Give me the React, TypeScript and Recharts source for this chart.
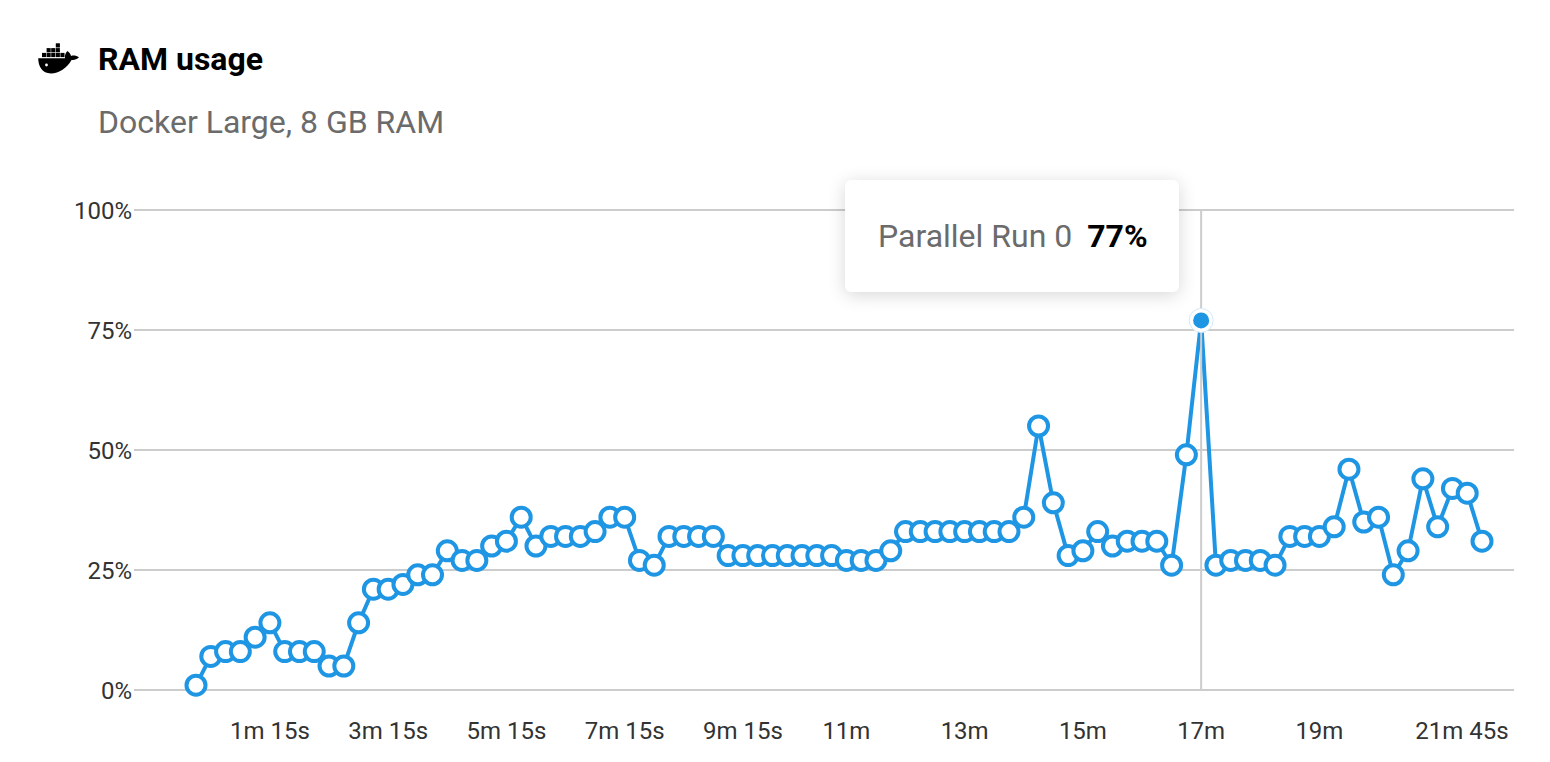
import React from 'react';
import { LineChart, Line, XAxis, YAxis, CartesianGrid, Tooltip } from 'recharts';

const SERIES_NAME = 'Parallel Run 0';
const ACTIVE_INDEX = 68;

// one sample every 15 seconds
const ramValues = [
  1, 7, 8, 8, 11, 14, 8, 8, 8, 5, 5, 14, 21, 21, 22, 24, 24, 29, 27, 27, 30, 31,
  36, 30, 32, 32, 32, 33, 36, 36, 27, 26, 32, 32, 32, 32, 28, 28, 28, 28, 28, 28,
  28, 28, 27, 27, 27, 29, 33, 33, 33, 33, 33, 33, 33, 33, 36, 55, 39, 28, 29, 33,
  30, 31, 31, 31, 26, 49, 77, 26, 27, 27, 27, 26, 32, 32, 32, 34, 46, 35, 36, 24,
  29, 44, 34, 42, 41, 31,
];
const timeTicks = ['1m 15s', '3m 15s', '5m 15s', '7m 15s', '9m 15s', '11m', '13m', '15m', '17m', '19m', '21m 45s'];
const percentTicks = [0, 25, 50, 75, 100];

const formatTime = (i: number) => {
  const total = i * 15;
  const m = Math.floor(total / 60);
  const s = total % 60;
  return s ? `${m}m ${s}s` : `${m}m`;
};

const chartData = ramValues.map((value, i) => ({ time: formatTime(i), value }));

const BLUE = '#1f96e3';

const TimeTick = (props: any) => {
  const { x, y, payload } = props;
  const isLast = payload.value === timeTicks[timeTicks.length - 1];
  return (
    <text x={x} y={y} dx={isLast ? -20 : 0} dy={41} textAnchor="middle" fontSize={24} fill="#333">
      {payload.value}
    </text>
  );
};

const RamTooltip = ({ payload }: any) => {
  const value = payload && payload.length ? payload[0].value : null;
  return (
    <div
      style={{
        width: 334,
        height: 112,
        boxSizing: 'border-box',
        display: 'flex',
        alignItems: 'center',
        paddingLeft: 33,
        background: '#fff',
        borderRadius: 6,
        boxShadow: '0 3px 18px rgba(0,0,0,0.16)',
        fontSize: 32,
      }}
    >
      <span style={{ color: '#6b6b6b' }}>{SERIES_NAME}</span>
      <span style={{ color: '#000', fontWeight: 700, marginLeft: 15 }}>{value}%</span>
    </div>
  );
};

const ActiveDot = (props: any) => {
  const { cx, cy } = props;
  return (
    <g>
      <circle cx={cx} cy={cy} r={12} fill="#fff" stroke="#d4ebfa" strokeWidth={1} />
      <circle cx={cx} cy={cy} r={8} fill={BLUE} />
    </g>
  );
};

const DockerIcon = () => {
  const boxes = [
    [17.8, 0.3],
    [8.6, 5.1], [13.2, 5.1], [17.8, 5.1],
    [4, 9.9], [8.6, 9.9], [13.2, 9.9], [17.8, 9.9], [22.4, 9.9],
  ];
  return (
    <svg width={41} height={31} viewBox="0 0 41 31" style={{ position: 'absolute', left: 38, top: 43 }}>
      {boxes.map(([x, y], i) => (
        <rect key={i} x={x} y={y} width={4.1} height={4.2} fill="#000" />
      ))}
      <path
        d="M0.2 15.3 H27 C26.5 12.5 27.5 10 29.5 8 C31.5 9.5 32.5 11 33 13 C35.5 12 38.5 12.5 41 14.5 C38.5 16.5 36 17 33.5 17 C29 25 21 30.5 13 30.5 C4 30.5 0.3 23 0.2 15.3 Z"
        fill="#000"
      />
      <circle cx={8.5} cy={22} r={1.4} fill="#fff" />
    </svg>
  );
};

export default function App() {
  return (
    <div style={{ position: 'absolute', left: 0, top: 0, width: 1550, height: 762, background: '#fff', fontFamily: 'Roboto, sans-serif' }}>
      <DockerIcon />
      <div style={{ position: 'absolute', left: 98, top: 40, fontSize: 32, lineHeight: '38px', fontWeight: 700, color: '#000' }}>RAM usage</div>
      <div style={{ position: 'absolute', left: 98, top: 103, fontSize: 32, lineHeight: '38px', color: '#6b6b6b' }}>Docker Large, 8 GB RAM</div>
      <div style={{ position: 'absolute', left: 0, top: 0 }}>
        <LineChart width={1550} height={762} data={chartData} margin={{ top: 210, right: 36, bottom: 0, left: 0 }}>
          <CartesianGrid vertical={false} stroke="#cccccc" strokeWidth={2} />
          <XAxis
            dataKey="time"
            scale="point"
            padding={{ left: 62, right: 32 }}
            ticks={timeTicks}
            interval={0}
            tick={TimeTick}
            tickLine={false}
            axisLine={false}
            height={72}
          />
          <YAxis
            domain={[0, 100]}
            ticks={percentTicks}
            tickFormatter={(v: number) => `${v}%`}
            width={134}
            tickLine={false}
            axisLine={false}
            tickSize={0}
            tickMargin={2}
            tick={{ fontSize: 24, fill: '#333' }}
          />
          <Tooltip
            active
            defaultIndex={ACTIVE_INDEX}
            content={RamTooltip}
            position={{ x: 845, y: 180 }}
            cursor={{ stroke: '#cccccc', strokeWidth: 2 }}
            isAnimationActive={false}
          />
          <Line
            type="linear"
            dataKey="value"
            name={SERIES_NAME}
            stroke={BLUE}
            strokeWidth={4}
            dot={{ r: 9.5, fill: '#fff', stroke: BLUE, strokeWidth: 4 }}
            activeDot={ActiveDot}
            isAnimationActive={false}
          />
        </LineChart>
      </div>
    </div>
  );
}
